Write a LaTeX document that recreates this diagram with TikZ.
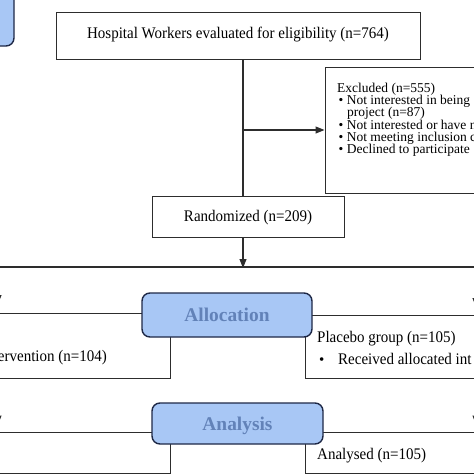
\documentclass[tikz,border=0pt]{standalone}
\usepackage{fontspec}
\setmainfont{Liberation Serif}
\usetikzlibrary{arrows.meta}
\definecolor{boxblue}{RGB}{168,199,245}
\definecolor{labblue}{RGB}{98,130,184}
\definecolor{edgegray}{RGB}{45,45,45}
\definecolor{navy}{RGB}{30,40,70}
\newcommand{\tallbox}[1]{\scalebox{1}[1.08]{#1}}
\begin{document}
\begin{tikzpicture}[x=1pt,y=-1pt,
  plainbox/.style={draw=edgegray,line width=1pt,fill=white,inner sep=0pt},
  stagebox/.style={draw=navy,line width=1.4pt,fill=boxblue,rounded corners=8pt,inner sep=0pt,
     font=\fontsize{19.4}{22}\selectfont\bfseries,text=labblue,text height=13pt,text depth=0pt},
  conn/.style={draw=edgegray,line width=1.1pt},
  arr/.style={conn,-{Triangle[width=7pt,length=9pt]}},
  txt/.style={inner sep=0pt,font=\fontsize{15}{18}\selectfont},
  smalltxt/.style={inner sep=0pt,font=\fontsize{13.5}{12.3}\selectfont,anchor=base west}
]
\useasboundingbox (0,0) rectangle (474,474);

% enrollment stage box (mostly off-canvas)
\node[stagebox,minimum width=134pt,minimum height=86pt] (enrol) at (-53,3) {};

% top boxes
\node[plainbox,minimum width=364pt,minimum height=47pt] (hosp) at (238,35.5) {};
\node[txt,anchor=base] (hosptxt) at (238,38.5) {\tallbox{Hospital Workers evaluated for eligibility (n=764)}};

\node[plainbox,minimum width=200pt,minimum height=126pt] (excl) at (425,130) {};
\node[smalltxt] (ex0) at (337,92.3) {Excluded (n=555)};
\node[smalltxt] (ex1) at (338.5,104.6) {\textbullet\ Not interested in being};
\node[smalltxt] (ex2) at (347,116.9) {project (n=87)};
\node[smalltxt] (ex3) at (338.5,129.2) {\textbullet\ Not interested or have n};
\node[smalltxt] (ex4) at (338.5,141.5) {\textbullet\ Not meeting inclusion c};
\node[smalltxt] (ex5) at (338.5,153.8) {\textbullet\ Declined to participate};

\node[plainbox,minimum width=192pt,minimum height=41pt] (rand) at (248,216.5) {};
\node[txt,anchor=base] (randtxt) at (248,221.7) {\tallbox{Randomized (n=209)}};

\coordinate (spine) at (243,0);
\coordinate (split) at (243,267);
\coordinate (lb) at (-2,267);
\coordinate (rb) at (476,267);

\draw[conn] (hosp.south -| spine) -- (rand.north -| spine);
\draw[arr] (spine |- excl.west) -- (excl.west);
\draw[arr,shorten >=-1pt] (rand.south -| spine) -- (split);
\draw[conn] (lb) -- (rb);
\draw[edgegray,line width=2.6pt] (197,267) -- (273,267);
\draw[arr] (lb) -- ++(0,37);
\draw[arr] (rb) -- ++(0,40);

% allocation level
\node[plainbox,minimum width=270pt,minimum height=65pt] (ibox) at (35,345.5) {};
\node[plainbox,minimum width=295pt,minimum height=63pt] (pbox) at (452.5,346.5) {};
\node[stagebox,minimum width=170pt,minimum height=44pt] (alloc) at (227,315) {Allocation};
\node[txt,anchor=base east] (itxt) at (107,361.7) {\tallbox{ervention (n=104)}};
\node[txt,anchor=base west] (ptxt) at (317,342.7) {\tallbox{Placebo group (n=105)}};
\node[txt,anchor=base west] (pbul) at (319,364) {\textbullet};
\node[txt,anchor=base west] (ptxt2) at (338,364) {\tallbox{Received allocated int}};

% analysis level
\draw[arr] (ibox.south -| lb) -- ++(0,46);
\draw[arr] (pbox.south -| rb) -- ++(0,46);
\node[plainbox,minimum width=270pt,minimum height=41pt] (ianal) at (35,452.5) {};
\node[plainbox,minimum width=295pt,minimum height=41pt] (panal) at (452.5,452.5) {};
\node[stagebox,minimum width=171pt,minimum height=41pt] (anal) at (237.5,423.5) {Analysis};
\node[txt,anchor=base west] (atxt) at (317,459) {\tallbox{Analysed (n=105)}};
\end{tikzpicture}
\end{document}
